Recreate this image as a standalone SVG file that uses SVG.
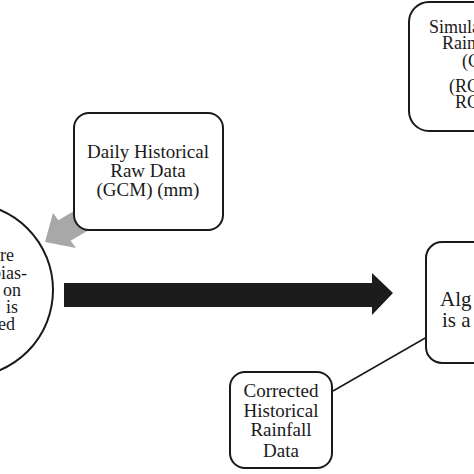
<svg xmlns="http://www.w3.org/2000/svg" width="474" height="474" viewBox="0 0 474 474">
<style>
.box{fill:#fff;stroke:#1a1a1a;stroke-width:2}
.t{font-family:"Liberation Serif","Times New Roman",serif;fill:#1a1a1a}
.c{text-anchor:middle}
.e{text-anchor:end}
.s{text-anchor:start}
</style>
<rect width="474" height="474" fill="#fff"/>
<g id="connectors">
<polygon points="64,283 372,283 372,273 393,293 372,315 372,307 64,307" fill="#1c1c1c"/>
<polygon points="45,242 53,213 58.4,220.2 101.5,194.8 113.7,215.4 70.6,240.8 76,248" fill="#a8a8a8"/>
<line x1="333" y1="391" x2="427" y2="337" stroke="#1a1a1a" stroke-width="1.5"/>
</g>
<g id="node-circle">
<circle cx="-34" cy="290" r="87" class="box"/>
<text class="t e" font-size="18" x="14" y="261">re</text>
<text class="t e" font-size="18" x="27" y="279">bias-</text>
<text class="t e" font-size="18" x="21" y="296">on</text>
<text class="t e" font-size="18" x="18" y="313">is</text>
<text class="t e" font-size="18" x="15" y="330">ed</text>
</g>
<g id="node-raw">
<rect x="74" y="113" width="149" height="117" rx="15" class="box"/>
<text class="t c" font-size="19" x="148" y="158">Daily Historical</text>
<text class="t c" font-size="19" x="148" y="177">Raw Data</text>
<text class="t c" font-size="19" x="148" y="196">(GCM) (mm)</text>
</g>
<g id="node-simulated">
<rect x="409" y="2" width="90" height="129" rx="20" class="box"/>
<text class="t s" font-size="18" x="429" y="33">Simula</text>
<text class="t s" font-size="18" x="442" y="49">Rain</text>
<text class="t s" font-size="18" x="462" y="67">(C</text>
<text class="t s" font-size="18" x="449" y="92">(RC</text>
<text class="t s" font-size="18" x="455" y="108">RC</text>
</g>
<g id="node-algorithm">
<rect x="426" y="242" width="70" height="121" rx="16" class="box"/>
<text class="t s" font-size="21" x="440" y="306">Alg</text>
<text class="t s" font-size="21" x="442" y="327">is a</text>
</g>
<g id="node-corrected">
<rect x="230" y="372" width="102" height="96" rx="15" class="box"/>
<text class="t c" font-size="19" x="281" y="397">Corrected</text>
<text class="t c" font-size="19" x="281" y="417">Historical</text>
<text class="t c" font-size="19" x="281" y="436">Rainfall</text>
<text class="t c" font-size="19" x="281" y="457">Data</text>
</g>
</svg>
